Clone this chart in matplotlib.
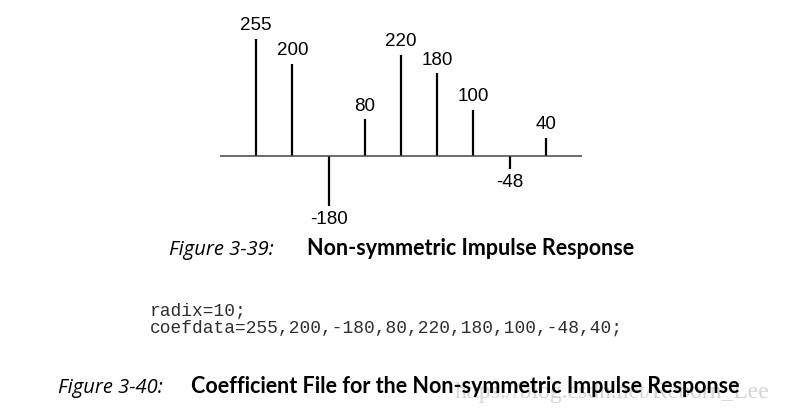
import matplotlib.pyplot as plt
import numpy as np

# coefficient values of the impulse response
coef = [255, 200, -180, 80, 220, 180, 100, -48, 40]
labels = ["255", "200", "-180", "80", "220", "180", "100", "-48", "40"]
radix = 10

W, H = 788, 414
NEG_GAIN = 0.6  # negative taps are drawn compressed in the original sketch


def fwd(v):
    v = np.asarray(v, dtype=float)
    return np.where(v >= 0, v, v * NEG_GAIN)


def inv(v):
    v = np.asarray(v, dtype=float)
    return np.where(v >= 0, v, v / NEG_GAIN)


def fx(px):
    return px / W


def fy(py):
    return 1 - py / H


fig = plt.figure(figsize=(7.88, 4.14), dpi=100)
fig.patch.set_facecolor("white")

# stem plot area
ax = fig.add_axes([fx(220), fy(225), (582 - 220) / W, (225 - 20) / H])
ax.set_yscale("function", functions=(fwd, inv))
x = np.arange(len(coef))
ax.vlines(x, 0, coef, color="black", linewidth=1.6)
ax.axhline(0, color="#444444", linewidth=1.1)
ax.set_xlim(-1, len(coef))
ax.set_ylim(-247, 298)
ax.axis("off")

for xi, v, lab in zip(x, coef, labels):
    if v >= 0:
        ax.annotate(lab, (xi, v), xytext=(0, 4), textcoords="offset points",
                    ha="center", va="bottom", fontsize=13.5,
                    family="Liberation Sans")
    else:
        ax.annotate(lab, (xi, v), xytext=(0, -3), textcoords="offset points",
                    ha="center", va="top", fontsize=13.5,
                    family="Liberation Sans")

# captions
fig.text(fx(169), fy(255), "Figure 3-39:", fontsize=14.5, style="italic",
         family="Open Sans", va="baseline", ha="left")
fig.text(fx(307), fy(255), "Non-symmetric Impulse Response", fontsize=15.5,
         weight="bold", family="Lato", va="baseline", ha="left")

coef_line = "coefdata=" + ",".join(labels) + ";"
fig.text(fx(150), fy(316), "radix=%d;" % radix, fontsize=12.9,
         family="Liberation Mono", color="#2e2e2e", va="baseline", ha="left")
fig.text(fx(150), fy(333), coef_line, fontsize=12.9,
         family="Liberation Mono", color="#2e2e2e", va="baseline", ha="left")

# faint watermark
fig.text(fx(455), fy(398), "https://blog.csdn.net/Reborn_Lee", fontsize=17,
         family="Liberation Serif", color="#d4d4d4", va="baseline", ha="left",
         zorder=0)

fig.text(fx(58), fy(393), "Figure 3-40:", fontsize=14.5, style="italic",
         family="Open Sans", va="baseline", ha="left")
fig.text(fx(191), fy(393), "Coefficient File for the Non-symmetric Impulse Response",
         fontsize=15.5, weight="bold", family="Lato", va="baseline", ha="left")

fig.savefig("out.png", dpi=100)
